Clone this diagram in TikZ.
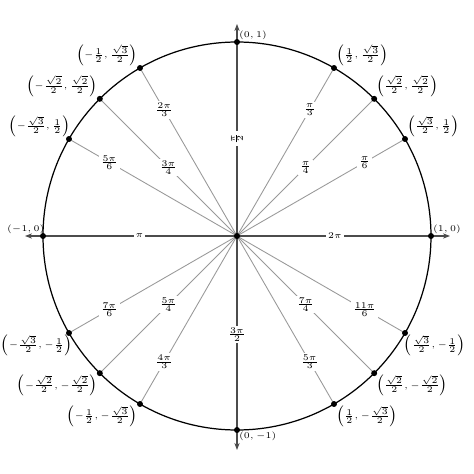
\documentclass[tikz,border=0pt]{standalone}
\usetikzlibrary{arrows.meta}
\begin{document}
\begin{tikzpicture}[x=0.02cm,y=0.02cm,
  ray/.style={gray!80,line width=0.5pt},
  ax/.style={black!70,line width=0.9pt,-{Stealth[length=4pt]}},
  lab/.style={fill=white,text=black,inner sep=1pt,font=\tiny},
  pt/.style={circle,fill=black,inner sep=1.2pt},
  co/.style={font=\tiny,inner sep=1pt}]
\useasboundingbox (-237,-238) rectangle (237,236);
\coordinate (O) at (0,0);
\foreach \a/\r/\t in {30/0.76/{$\frac{\pi}{6}$},45/0.5/{$\frac{\pi}{4}$},60/0.75/{$\frac{\pi}{3}$},
 120/0.75/{$\frac{2\pi}{3}$},135/0.5/{$\frac{3\pi}{4}$},150/0.76/{$\frac{5\pi}{6}$},
 210/0.76/{$\frac{7\pi}{6}$},225/0.5/{$\frac{5\pi}{4}$},240/0.75/{$\frac{4\pi}{3}$},
 300/0.75/{$\frac{5\pi}{3}$},315/0.5/{$\frac{7\pi}{4}$},330/0.76/{$\frac{11\pi}{6}$}}{
  \coordinate (P\a) at (\a:194);
  \draw[ray] (O) -- (P\a) node[lab,pos=\r] {\t};
}
\coordinate (L) at (-212,0); \coordinate (R) at (213,0);
\coordinate (T) at (0,212); \coordinate (B) at (0,-214);
\draw[ax] (O) -- (R) node[lab,pos=0.46] {$2\pi$};
\draw[ax] (O) -- (L) node[lab,pos=0.46] {$\pi$};
\draw[ax] (O) -- (T) node[lab,pos=0.46,rotate=90] {$\frac{\pi}{2}$};
\draw[ax] (O) -- (B) node[lab,pos=0.46] {$\frac{3\pi}{2}$};
\draw[black,line width=0.7pt] (O) circle (194);
\node[pt] (c) at (O) {};
\foreach \a in {0,30,45,60,90,120,135,150,180,210,225,240,270,300,315,330}{
  \node[pt] (d\a) at (\a:194) {};}
\node[co,anchor=south west] at (d90) {$(0,1)$};
\node[co,anchor=north west] at (d270) {$(0,-1)$};
\node[co,anchor=south west] at (d0) {$(1,0)$};
\node[co,anchor=south east,xshift=2pt] at (d180) {$(-1,0)$};
\node[co,anchor=south west] at (d30) {$\left(\frac{\sqrt{3}}{2},\frac{1}{2}\right)$};
\node[co,anchor=south west] at (d45) {$\left(\frac{\sqrt{2}}{2},\frac{\sqrt{2}}{2}\right)$};
\node[co,anchor=south west] at (d60) {$\left(\frac{1}{2},\frac{\sqrt{3}}{2}\right)$};
\node[co,anchor=south east] at (d120) {$\left(-\frac{1}{2},\frac{\sqrt{3}}{2}\right)$};
\node[co,anchor=south east] at (d135) {$\left(-\frac{\sqrt{2}}{2},\frac{\sqrt{2}}{2}\right)$};
\node[co,anchor=south east,xshift=2pt] at (d150) {$\left(-\frac{\sqrt{3}}{2},\frac{1}{2}\right)$};
\node[co,anchor=north east,xshift=3pt] at (d210) {$\left(-\frac{\sqrt{3}}{2},-\frac{1}{2}\right)$};
\node[co,anchor=north east] at (d225) {$\left(-\frac{\sqrt{2}}{2},-\frac{\sqrt{2}}{2}\right)$};
\node[co,anchor=north east] at (d240) {$\left(-\frac{1}{2},-\frac{\sqrt{3}}{2}\right)$};
\node[co,anchor=north west] at (d300) {$\left(\frac{1}{2},-\frac{\sqrt{3}}{2}\right)$};
\node[co,anchor=north west] at (d315) {$\left(\frac{\sqrt{2}}{2},-\frac{\sqrt{2}}{2}\right)$};
\node[co,anchor=north west,xshift=-2pt] at (d330) {$\left(\frac{\sqrt{3}}{2},-\frac{1}{2}\right)$};
\end{tikzpicture}
\end{document}
